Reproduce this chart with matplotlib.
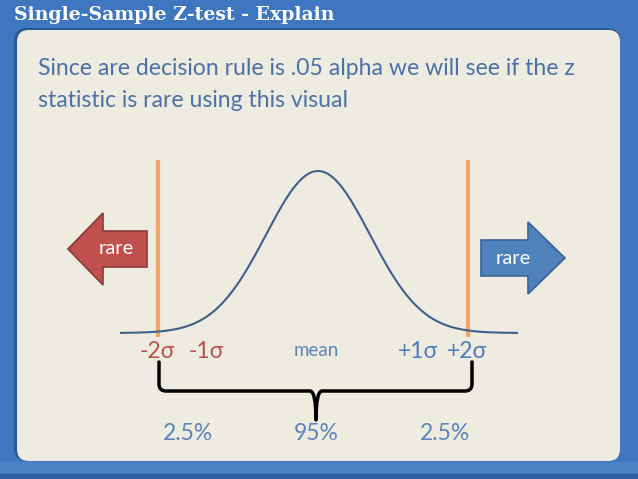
import numpy as np
import matplotlib
matplotlib.use("Agg")
import matplotlib.pyplot as plt
from matplotlib.patches import FancyBboxPatch, Polygon, PathPatch
from matplotlib.path import Path

# ---- content ----
title = "Single-Sample Z-test - Explain"
body_lines = ["Since are decision rule is .05 alpha we will see if the z",
              "statistic is rare using this visual"]
sigma_labels = ["-2σ", "-1σ", "mean", "+1σ", "+2σ"]
sigma_label_x = [157, 206, 316, 418, 467]
sigma_label_colors = ["#c0504d", "#c0504d", "#5b84bd", "#4f7dbd", "#4f7dbd"]
pct_labels = ["2.5%", "95%", "2.5%"]
pct_x = [188, 316, 445]
arrow_labels = ["rare", "rare"]

# curve geometry (pixel frame)
curve_x0, curve_x1 = 121, 517
curve_mean, curve_sd = 318, 52
baseline_y, peak_h = 333, 162
crit_x = [158, 468]

W, H = 638, 479
fig = plt.figure(figsize=(W / 100, H / 100), dpi=100)
fig.patch.set_facecolor("#3e76bf")
ax = fig.add_axes([0, 0, 1, 1])
ax.set_xlim(0, W)
ax.set_ylim(H, 0)
ax.axis("off")

FONT = ["Lato", "DejaVu Sans"]

# frame details
ax.add_patch(plt.Rectangle((0, 462), W, 12, color="#4a82c6", zorder=0))
ax.add_patch(plt.Rectangle((0, 474), W, 5, color="#2f5f9e", zorder=0))
# panel shadow + panel
ax.add_patch(FancyBboxPatch((14, 28), 606, 433, boxstyle="round,pad=0,rounding_size=13",
                            fc="#2e5a94", ec="none", zorder=1))
ax.add_patch(FancyBboxPatch((17, 30), 603, 431, boxstyle="round,pad=0,rounding_size=12",
                            fc="#eeebe0", ec="none", zorder=2))

# title
ax.text(14, 15, title, color="white", fontsize=13.6, fontweight="bold",
        family=["DejaVu Serif"], va="center", ha="left", zorder=5)

# body text
for i, line in enumerate(body_lines):
    ax.text(38, 68 + 32 * i, line, color="#4a72a8", fontsize=16.6,
            family=FONT, va="center", ha="left", zorder=5)

# normal curve
xs = np.linspace(curve_x0, curve_x1, 400)
ys = baseline_y - peak_h * np.exp(-0.5 * ((xs - curve_mean) / curve_sd) ** 2)
ax.plot(xs, ys, color="#40608c", lw=1.5, zorder=4)

# critical lines
for cx in crit_x:
    ax.plot([cx, cx], [160, 337], color="#f2a766", lw=3, solid_capstyle="butt", zorder=3)

# arrows
def arrow(tip_x, tip_y, head_base_x, body_end_x, head_half, body_half, fc, ec):
    pts = [(tip_x, tip_y), (head_base_x, tip_y - head_half), (head_base_x, tip_y - body_half),
           (body_end_x, tip_y - body_half), (body_end_x, tip_y + body_half),
           (head_base_x, tip_y + body_half), (head_base_x, tip_y + head_half)]
    ax.add_patch(Polygon(pts, closed=True, fc=fc, ec=ec, lw=1.2, zorder=4))

arrow(68, 249, 103, 147, 36, 18, "#c0504d", "#8c3a38")
arrow(565, 258, 528, 481, 36, 18, "#4f81bd", "#3a6496")
ax.text(116, 248, arrow_labels[0], color="white", fontsize=14.5, family=FONT,
        ha="center", va="center", zorder=6)
ax.text(513, 258, arrow_labels[1], color="white", fontsize=14.5, family=FONT,
        ha="center", va="center", zorder=6)

# sigma labels
for lab, x, c in zip(sigma_labels, sigma_label_x, sigma_label_colors):
    fs = 13.5 if lab == "mean" else 16.5
    ax.text(x, 351, lab, color=c, fontsize=fs, family=FONT, ha="center", va="center", zorder=5)

# brace
L, R, M = 159, 472, 316
top, hy, r = 362, 391, 7
verts = [(L, top), (L, hy - r), (L, hy), (L + r, hy), (M - 6, hy), (M, hy), (M, 420),
         (M, hy), (M + 6, hy), (R - r, hy), (R, hy), (R, hy - r), (R, top)]
codes = [Path.MOVETO, Path.LINETO, Path.CURVE3, Path.CURVE3, Path.LINETO, Path.CURVE3, Path.CURVE3,
         Path.CURVE3, Path.CURVE3, Path.LINETO, Path.CURVE3, Path.CURVE3, Path.LINETO]
ax.add_patch(PathPatch(Path(verts, codes), fc="none", ec="black", lw=2.5, zorder=5,
                       capstyle="round", joinstyle="round"))

# percentages
for lab, x in zip(pct_labels, pct_x):
    ax.text(x, 433, lab, color="#5b84bd", fontsize=16.5, family=FONT, ha="center", va="center", zorder=5)

fig.savefig("out.png", dpi=100, facecolor=fig.get_facecolor())
